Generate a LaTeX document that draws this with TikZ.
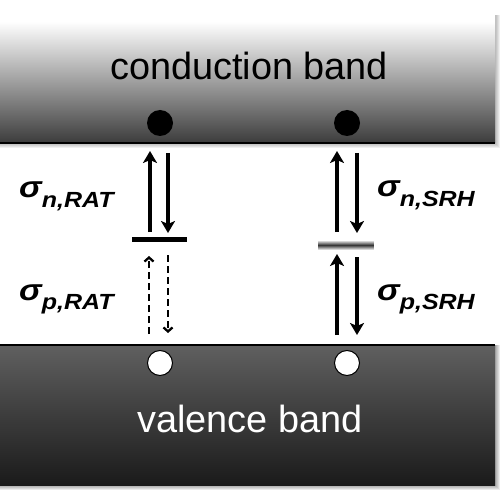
\documentclass[tikz,border=0pt]{standalone}
\usepackage{fontspec}
\setmainfont{Liberation Sans}
\usetikzlibrary{arrows.meta}
\definecolor{cbbot}{HTML}{3C3C3C}
\definecolor{vbtop}{HTML}{606060}
\definecolor{vbbot}{HTML}{1A1A1A}
\pgfdeclareverticalshading{cbshade}{100bp}{color(0bp)=(cbbot); color(25bp)=(cbbot); color(69bp)=(white); color(100bp)=(white)}
\pgfdeclareverticalshading{vbshade}{100bp}{color(0bp)=(vbbot); color(25bp)=(vbbot); color(75bp)=(vbtop); color(100bp)=(vbtop)}
\begin{document}
\begin{tikzpicture}[x=1bp,y=-1bp,
  electron/.style={circle, fill=black, minimum size=26bp, inner sep=0pt},
  hole/.style={circle, fill=white, draw=black, line width=1bp, minimum size=25bp, inner sep=0pt},
  sarrow/.style={line width=3.8bp, -{Stealth[length=12bp,width=14bp,inset=3bp]}},
  darrow/.style={line width=2.3bp, dash pattern=on 7bp off 4bp, -{Straight Barb[length=4bp,width=9bp]}},
  bandtext/.style={font=\fontsize{38}{40}\selectfont, anchor=base},
  siglabel/.style={anchor=base west, inner sep=0pt}
]
\newcommand{\sig}[1]{\scalebox{1.14}[1]{{\fontsize{30}{30}\selectfont\bfseries\itshape σ}\raisebox{-9bp}{\fontsize{22}{22}\selectfont\bfseries\itshape #1}}}
\useasboundingbox (0,0) rectangle (500,493);
\fill[white] (0,0) rectangle (500,493);
% soft shadows
\foreach \i in {1,...,5}{
  \fill[black, opacity=0.06] (0,15) rectangle (495+\i,143+\i);
  \fill[black, opacity=0.08] (0,345) rectangle (495+\i,485+\i);
}
% bands
\shade[shading=cbshade] (0,5) rectangle (495,143);
\shade[shading=vbshade] (0,345) rectangle (495,485);
\draw[line width=2bp] (0,143) -- (495,143);
\draw[line width=2bp] (0,345) -- (495,345);
\node[bandtext, text=black] (cb) at (249,80) {conduction band};
\node[bandtext, text=white] (vb) at (250,432) {valence band};
% carriers
\node[electron] (e1) at (160,123) {};
\node[electron] (e2) at (347,123) {};
\node[hole] (h1) at (160,363) {};
\node[hole] (h2) at (347,363) {};
% trap levels
\node[fill=black, minimum width=55bp, minimum height=5bp, inner sep=0pt] (t1) at (159.5,239.5) {};
\node[top color=white, bottom color=white, middle color=black!80, minimum width=55bp, minimum height=10bp, inner sep=0pt] (t2) at (346,245) {};
% arrow end points
\coordinate (a1) at (150,232); \coordinate (a2) at (150,151);
\coordinate (b1) at (168,153); \coordinate (b2) at (168,233);
\coordinate (c1) at (149,334); \coordinate (c2) at (149,256);
\coordinate (d1) at (168,255); \coordinate (d2) at (168,333);
\coordinate (f1) at (337,232); \coordinate (f2) at (337,151);
\coordinate (g1) at (357,153); \coordinate (g2) at (357,233);
\coordinate (k1) at (337,335); \coordinate (k2) at (337,254);
\coordinate (m1) at (357,257); \coordinate (m2) at (357,335);
\draw[sarrow] (a1) -- (a2);
\draw[sarrow] (b1) -- (b2);
\draw[darrow] (c1) -- (c2);
\draw[darrow] (d1) -- (d2);
\draw[sarrow] (f1) -- (f2);
\draw[sarrow] (g1) -- (g2);
\draw[sarrow] (k1) -- (k2);
\draw[sarrow] (m1) -- (m2);
% labels
\node[siglabel] (l1) at (19,198) {\sig{n,RAT}};
\node[siglabel] (l2) at (19,300) {\sig{p,RAT}};
\node[siglabel] (l3) at (377,197) {\sig{n,SRH}};
\node[siglabel] (l4) at (377,300) {\sig{p,SRH}};
\end{tikzpicture}
\end{document}
